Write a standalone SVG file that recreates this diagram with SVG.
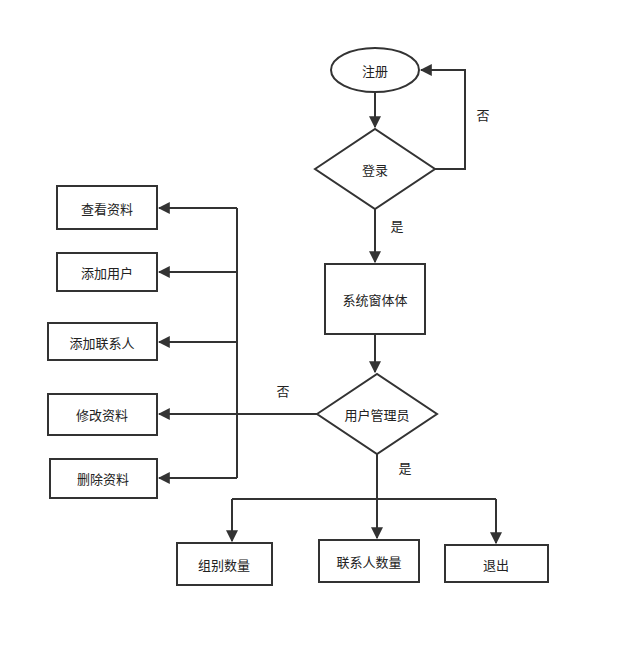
<svg xmlns="http://www.w3.org/2000/svg" width="626" height="646" viewBox="0 0 626 646">
<style>
.s{fill:#fff;stroke:#333;stroke-width:2}
.c{fill:none;stroke:#333;stroke-width:2}
text{font-family:"Noto Sans CJK SC","Liberation Sans",sans-serif;font-size:13px;fill:#222;text-anchor:middle;dominant-baseline:central}
</style>
<defs><marker id="a" viewBox="0 0 10 10" refX="9" refY="5" markerWidth="6" markerHeight="6" orient="auto"><path d="M0,0L10,5L0,10z" fill="#333"/></marker></defs>
<rect width="626" height="646" fill="#fff"/>
<g id="connectors">
<path class="c" d="M375,92V127" marker-end="url(#a)"/>
<path class="c" d="M435,169H465V70H421" marker-end="url(#a)"/>
<path class="c" d="M375,209V262" marker-end="url(#a)"/>
<path class="c" d="M375,334V372" marker-end="url(#a)"/>
<path class="c" d="M317,414H237"/>
<path class="c" d="M237,208V478"/>
<path class="c" d="M237,208H159" marker-end="url(#a)"/>
<path class="c" d="M237,272H159" marker-end="url(#a)"/>
<path class="c" d="M237,342H159" marker-end="url(#a)"/>
<path class="c" d="M237,414H159" marker-end="url(#a)"/>
<path class="c" d="M237,478H159" marker-end="url(#a)"/>
<path class="c" d="M377,454V499"/>
<path class="c" d="M232,499H496"/>
<path class="c" d="M232,499V541" marker-end="url(#a)"/>
<path class="c" d="M377,499V538" marker-end="url(#a)"/>
<path class="c" d="M496,499V543" marker-end="url(#a)"/>
<text x="483" y="114">否</text>
<text x="397" y="225">是</text>
<text x="283" y="390">否</text>
<text x="405" y="467">是</text>
</g>
<g id="reg"><ellipse class="s" cx="375" cy="70" rx="44" ry="22"/><text x="375" y="70">注册</text></g>
<g id="login"><path class="s" d="M315,169L375,129L435,169L375,209z"/><text x="375" y="169">登录</text></g>
<g id="sys"><rect class="s" x="325" y="264" width="100" height="70"/><text x="375" y="299">系统窗体体</text></g>
<g id="admin"><path class="s" d="M317,414L377,374L437,414L377,454z"/><text x="377" y="414">用户管理员</text></g>
<g id="n1"><rect class="s" x="57" y="186" width="100" height="43"/><text x="107" y="208">查看资料</text></g>
<g id="n2"><rect class="s" x="57" y="253" width="100" height="38"/><text x="107" y="272">添加用户</text></g>
<g id="n3"><rect class="s" x="48" y="323" width="109" height="37"/><text x="102" y="342">添加联系人</text></g>
<g id="n4"><rect class="s" x="48" y="394" width="109" height="41"/><text x="102" y="414">修改资料</text></g>
<g id="n5"><rect class="s" x="50" y="459" width="107" height="39"/><text x="103" y="478">删除资料</text></g>
<g id="b1"><rect class="s" x="177" y="543" width="95" height="42"/><text x="224" y="564">组别数量</text></g>
<g id="b2"><rect class="s" x="319" y="540" width="100" height="42"/><text x="369" y="561">联系人数量</text></g>
<g id="b3"><rect class="s" x="445" y="545" width="103" height="37"/><text x="496" y="564">退出</text></g>
</svg>
